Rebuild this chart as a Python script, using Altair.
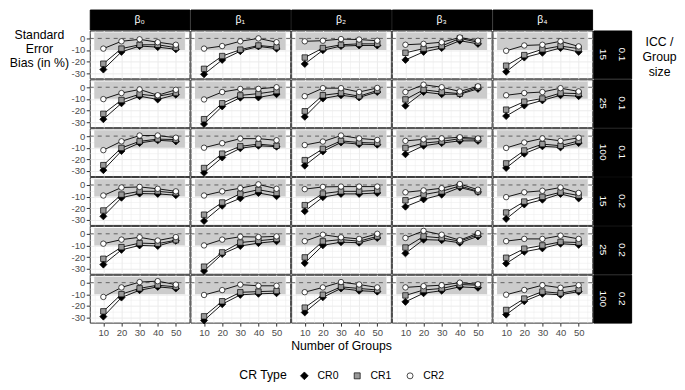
import altair as alt
import pandas as pd

# ---------------- data ----------------
beta_labels = ["β₀", "β₁", "β₂", "β₃", "β₄"]
n_groups = [10, 20, 30, 40, 50]
icc_labels = ["0.1", "0.1", "0.1", "0.2", "0.2", "0.2"]
size_labels = ["15", "25", "100", "15", "25", "100"]
cr_types = ["CR0", "CR1", "CR2"]
band_x = [5, 55]
band_y = [-10, 5]
ref_line = [0]
x_grid = [5, 10, 15, 20, 25, 30, 35, 40, 45, 50, 55]
y_grid = [-30, -25, -20, -15, -10, -5, 0, 5]

# each list: one sub-list per coefficient (beta0..beta4), values at 10..50 groups
# row 1: ICC 0.1, group size 15
row1_cr0 = [[-26.8, -11.6, -6.6, -7.5, -9.4], [-30.9, -18.5, -11.0, -6.9, -8.8], [-22.0, -10.2, -6.6, -6.1, -6.1],
            [-18.5, -11.6, -8.3, -2.0, -4.7], [-28.7, -16.5, -12.4, -8.3, -11.6]]
row1_cr1 = [[-21.8, -8.8, -5.5, -5.5, -8.0], [-26.2, -15.2, -9.7, -6.1, -7.5], [-16.5, -8.3, -5.5, -4.7, -4.7],
            [-12.4, -8.8, -6.6, 0.0, -3.3], [-23.5, -14.4, -9.4, -6.6, -8.8]]
row1_cr2 = [[-8.8, -2.5, -0.8, -3.3, -5.5], [-8.8, -6.6, -2.5, 0.0, -3.3], [-2.5, -2.0, -0.6, -1.0, -2.0],
            [-5.5, -4.7, -3.3, 0.8, -2.0], [-10.7, -6.1, -5.5, -2.5, -6.9]]
# row 2: ICC 0.1, group size 25
row2_cr0 = [[-27.5, -13.8, -7.7, -10.5, -6.4], [-31.6, -16.5, -9.0, -8.8, -6.0], [-25.4, -9.7, -6.9, -8.8, -4.1],
            [-15.9, -4.1, -6.0, -6.0, -1.4], [-24.8, -15.7, -11.3, -6.9, -7.7]]
row2_cr1 = [[-22.9, -11.0, -6.0, -7.7, -5.0], [-27.5, -13.8, -7.0, -5.5, -3.3], [-20.7, -6.9, -5.0, -7.7, -2.8],
            [-10.5, -2.2, -4.1, -5.5, 0.0], [-19.3, -12.4, -9.7, -5.0, -5.5]]
row2_cr2 = [[-10.2, -5.0, -1.9, -6.9, -2.2], [-10.5, -4.1, -1.5, -1.4, 0.0], [-7.7, -0.8, -0.8, -4.1, -0.6],
            [-4.1, 2.2, 0.0, -3.6, 0.8], [-6.9, -5.0, -4.1, -0.8, -3.6]]
# row 3: ICC 0.1, group size 100
row3_cr0 = [[-29.3, -12.8, -5.9, -3.6, -4.5], [-31.6, -18.4, -10.5, -8.3, -9.1], [-25.4, -13.2, -5.5, -6.9, -7.4],
            [-15.6, -8.3, -6.0, -4.1, -4.1], [-27.4, -15.1, -8.8, -9.7, -6.0]]
row3_cr1 = [[-25.0, -10.2, -4.5, -2.6, -3.0], [-27.5, -15.1, -8.8, -6.9, -8.3], [-20.7, -11.0, -4.1, -5.5, -6.0],
            [-10.2, -6.0, -4.6, -2.2, -2.8], [-23.5, -12.4, -6.9, -8.3, -4.1]]
row3_cr2 = [[-12.1, -4.5, 0.5, 0.5, -1.4], [-10.0, -6.1, -2.2, -2.2, -3.6], [-7.7, -4.7, 0.5, -2.0, -3.3],
            [-4.1, -2.8, -2.0, -1.0, -2.0], [-10.2, -5.5, -2.0, -4.1, -1.4]]
# row 4: ICC 0.2, group size 15
row4_cr0 = [[-27.0, -11.0, -7.4, -7.7, -8.8], [-31.0, -17.9, -11.5, -6.9, -9.7], [-22.6, -10.5, -7.7, -7.7, -6.9],
            [-18.7, -12.4, -8.3, -2.2, -6.0], [-29.2, -16.8, -12.7, -7.7, -11.6]]
row4_cr1 = [[-22.0, -8.3, -5.5, -5.5, -6.9], [-25.6, -15.1, -7.5, -4.1, -6.9], [-17.4, -7.4, -5.5, -5.5, -4.7],
            [-13.2, -8.3, -5.5, -0.8, -5.5], [-23.7, -14.3, -10.2, -6.3, -9.1]]
row4_cr2 = [[-9.1, -2.2, -1.7, -3.3, -5.5], [-9.1, -5.5, -2.8, 0.5, -3.3], [-3.6, -1.7, -1.4, -1.4, -1.4],
            [-6.3, -4.7, -2.8, 0.8, -4.1], [-10.5, -6.3, -5.0, -2.2, -6.9]]
# row 5: ICC 0.2, group size 25
row5_cr0 = [[-26.5, -13.8, -10.0, -10.5, -6.0], [-32.0, -17.4, -10.5, -8.0, -6.4], [-25.2, -9.9, -7.2, -7.7, -3.6],
            [-16.8, -5.0, -5.5, -7.7, -2.2], [-25.6, -15.4, -12.5, -8.5, -9.5]]
row5_cr1 = [[-21.5, -11.5, -8.0, -8.5, -5.5], [-28.3, -16.0, -7.5, -6.0, -4.4], [-20.3, -6.5, -5.0, -6.3, -2.2],
            [-11.8, -2.2, -3.6, -6.3, -0.8], [-20.6, -12.8, -10.0, -7.0, -7.5]]
row5_cr2 = [[-8.5, -5.0, -3.0, -5.8, -2.8], [-10.0, -5.0, -2.5, -2.8, -2.2], [-6.3, -0.8, -3.0, -4.4, 0.0],
            [-3.6, 2.5, -0.8, -5.5, 0.6], [-6.3, -4.4, -4.4, -1.6, -4.4]]
# row 6: ICC 0.2, group size 100
row6_cr0 = [[-29.2, -12.8, -6.5, -3.6, -5.0], [-32.5, -18.5, -10.5, -9.6, -9.1], [-25.6, -12.6, -5.0, -6.9, -7.7],
            [-16.5, -9.1, -6.9, -3.6, -4.4], [-27.5, -16.0, -9.6, -10.4, -7.7]]
row6_cr1 = [[-24.7, -9.9, -4.9, -2.2, -3.6], [-29.0, -16.0, -8.3, -7.7, -7.2], [-21.5, -10.4, -3.6, -5.0, -6.3],
            [-11.0, -6.3, -5.0, -1.6, -2.2], [-23.5, -13.7, -7.7, -9.1, -6.3]]
row6_cr2 = [[-12.3, -4.1, 0.5, 1.3, -1.7], [-10.6, -6.4, -1.7, -2.7, -2.7], [-8.2, -4.1, 0.5, -1.6, -4.1],
            [-4.1, -3.0, -2.2, 0.0, -1.4], [-10.4, -6.3, -2.2, -4.4, -2.2]]

rows = [
    (row1_cr0, row1_cr1, row1_cr2),
    (row2_cr0, row2_cr1, row2_cr2),
    (row3_cr0, row3_cr1, row3_cr2),
    (row4_cr0, row4_cr1, row4_cr2),
    (row5_cr0, row5_cr1, row5_cr2),
    (row6_cr0, row6_cr1, row6_cr2),
]

records = []
for r, trio in enumerate(rows):
    for k, arr in enumerate(trio):
        for c, series in enumerate(arr):
            for xv, yv in zip(n_groups, series):
                records.append({"r": r, "c": c, "cr": cr_types[k], "x": xv, "y": yv})
df = pd.DataFrame(records)

band_df = pd.DataFrame({"x0": [band_x[0]], "x1": [band_x[1]], "y0": [band_y[0]], "y1": [band_y[1]]})
ref_df = pd.DataFrame({"y": ref_line})

# ---------------- style ----------------
PW, PH = 100, 48
SW, TH = 38, 20
FONT = "Liberation Sans"
xs = alt.Scale(domain=[2.5, 57.5], nice=False, zero=False)
ys = alt.Scale(domain=[-34.4, 6.8], nice=False, zero=False)
minor_test = "datum.value % 10 !== 0"
grid_w = {"condition": {"test": minor_test, "value": 0.5}, "value": 1}
tick_op = {"condition": {"test": minor_test, "value": 0}, "value": 1}
lab_expr = "datum.value % 10 === 0 ? '' + datum.value : ''"
grid_common = dict(grid=True, gridColor="#ebebeb", gridWidth=grid_w, domain=False)
tick_common = dict(labels=True, labelExpr=lab_expr, ticks=True, tickOpacity=tick_op, tickSize=3.5,
                   tickColor="#333333", tickWidth=1, labelPadding=1.5, labelFontSize=9.5,
                   labelColor="#4d4d4d", labelOverlap=False, labelFlush=False, labelFont=FONT)

legend = alt.Legend(orient="none", legendX=150, legendY=362, direction="horizontal", title="CR Type",
                    titleOrient="left", titleFontSize=12.3, titleFontWeight="normal", titleColor="black",
                    titlePadding=12, titleFont=FONT, labelFont=FONT, labelFontSize=10.5, labelColor="black",
                    symbolSize=36, symbolStrokeWidth=0.7, labelOffset=8, columnPadding=13)

diamond = "M0,-1.3L1.3,0L0,1.3L-1.3,0Z"


def x_axis(r, c):
    if r == 5:
        if c == 2:
            return alt.Axis(values=x_grid, title="Number of Groups", titleFontSize=12.3,
                            titleFontWeight="normal", titleColor="black", titlePadding=2, titleFont=FONT,
                            **tick_common, **grid_common)
        return alt.Axis(values=x_grid, title=None, **tick_common, **grid_common)
    return alt.Axis(values=x_grid, labels=False, ticks=False, title=None, **grid_common)


def y_axis(r, c):
    if c == 0:
        if r == 0:
            return alt.Axis(values=y_grid, title=["Standard", "Error", "Bias (in %)"], titleAngle=0,
                            titleAlign="center", titleBaseline="middle", titleX=-51, titleY=4.5,
                            titleLineHeight=14, titleFontSize=12.3, titleFontWeight="normal",
                            titleColor="black", titleFont=FONT, **tick_common, **grid_common)
        return alt.Axis(values=y_grid, title=None, **tick_common, **grid_common)
    return alt.Axis(values=y_grid, labels=False, ticks=False, title=None, **grid_common)


def panel(r, c):
    xa, ya = x_axis(r, c), y_axis(r, c)
    band = alt.Chart(band_df).mark_rect(color="#cccccc").encode(
        x=alt.X("x0:Q", scale=xs, axis=xa), x2="x1:Q",
        y=alt.Y("y0:Q", scale=ys, axis=ya), y2="y1:Q")
    rule = alt.Chart(ref_df).mark_rule(color="#555555", strokeDash=[4, 4], strokeWidth=0.9).encode(
        y=alt.Y("y:Q", scale=ys, axis=ya))
    base = alt.Chart(df).transform_filter(f"datum.r == {r} && datum.c == {c}")
    lines = base.mark_line(color="black", strokeWidth=0.9).encode(
        x=alt.X("x:Q", scale=xs, axis=xa), y=alt.Y("y:Q", scale=ys, axis=ya), detail="cr:N")
    pts = base.mark_point(filled=True, strokeWidth=0.7, opacity=1, size=30).encode(
        x=alt.X("x:Q", scale=xs, axis=xa), y=alt.Y("y:Q", scale=ys, axis=ya),
        shape=alt.Shape("cr:N", scale=alt.Scale(domain=cr_types, range=[diamond, "square", "circle"]),
                        legend=legend),
        fill=alt.Fill("cr:N", scale=alt.Scale(domain=cr_types, range=["black", "#999999", "white"]),
                      legend=legend),
        stroke=alt.Stroke("cr:N", scale=alt.Scale(domain=cr_types, range=["black", "black", "black"]),
                          legend=legend))
    return alt.layer(band, rule, lines, pts).properties(
        width=PW, height=PH, view=alt.ViewBackground(fill="white", stroke="#333333", strokeWidth=1))


def top_strip(c):
    return alt.Chart(pd.DataFrame({"lab": [beta_labels[c]]})).mark_text(
        color="white", fontSize=10.5, font=FONT).encode(text="lab:N").properties(
        width=PW, height=TH, view=alt.ViewBackground(fill="black", stroke="black", strokeWidth=1))


def right_strip(r):
    d = pd.DataFrame({"var": ["n", "icc"], "lab": [size_labels[r], icc_labels[r]], "row": ["r", "r"]})
    if r == 0:
        ya = alt.Axis(orient="right", title=["ICC /", "Group", "size"], labels=False, ticks=False,
                      domain=False, grid=False, titleAngle=0, titleAlign="center", titleBaseline="middle",
                      titleX=28, titleY=11, titleLineHeight=15, titleFontSize=12.3,
                      titleFontWeight="normal", titleColor="black", titleFont=FONT)
        yenc = alt.Y("row:N", axis=ya)
    else:
        yenc = alt.Y("row:N", axis=None)
    return alt.Chart(d).mark_text(color="white", fontSize=10, angle=90, font=FONT).encode(
        x=alt.X("var:N", scale=alt.Scale(domain=["n", "icc"]), axis=None), y=yenc, text="lab:N"
    ).properties(width=SW, height=PH,
                 view=alt.ViewBackground(fill="black", stroke="black", strokeWidth=1))


corner = alt.Chart(pd.DataFrame({"t": [""]})).mark_text().encode(text="t:N").properties(
    width=SW, height=TH, view=alt.ViewBackground(fill="white", stroke="white", strokeWidth=0))

cells = [top_strip(c) for c in range(5)] + [corner]
for r in range(6):
    cells += [panel(r, c) for c in range(5)] + [right_strip(r)]

chart = alt.concat(*cells, columns=6, spacing=1, bounds="flush").properties(
    padding=0
).configure(font=FONT)

chart.save("out.html", embed_options={"renderer": "svg", "actions": False})
